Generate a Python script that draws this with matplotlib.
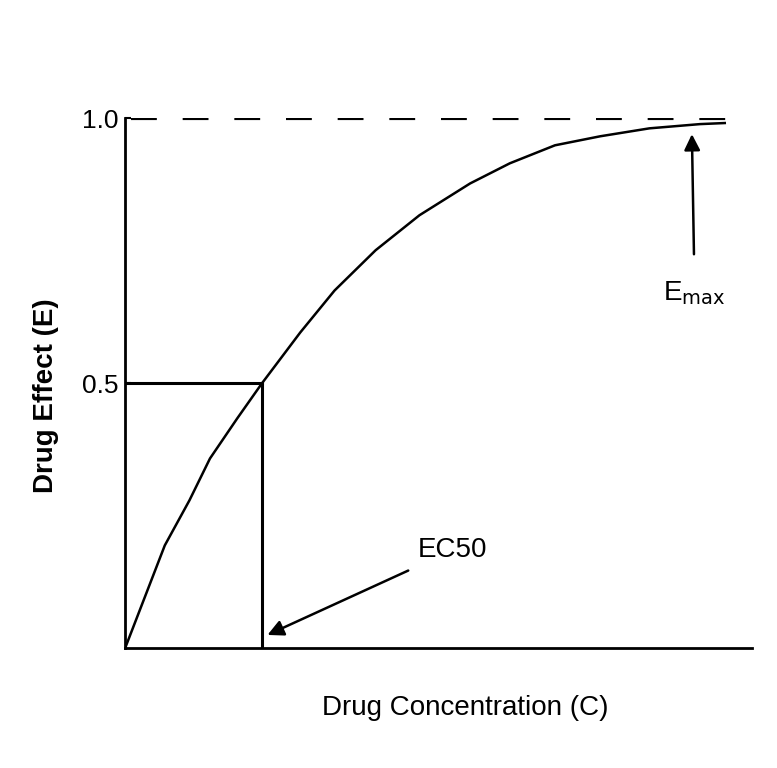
import matplotlib.pyplot as plt

# curve (C in units of EC50, E as fraction of Emax)
conc = [0, 0.29, 0.47, 0.62, 0.82, 1.0, 1.28, 1.53, 1.83, 2.15, 2.52, 2.81, 3.14, 3.47, 3.83, 4.20, 4.38]
effect = [0, 0.194, 0.279, 0.358, 0.434, 0.5, 0.596, 0.675, 0.751, 0.817, 0.877, 0.915, 0.949, 0.966, 0.981, 0.989, 0.991]
ec50 = 1.0
emax = 1.0
ytick_vals = [0.5, 1.0]
ytick_labels = ['0.5', '1.0']

plt.rcParams['font.family'] = ['Liberation Sans', 'DejaVu Sans']

fig = plt.figure(figsize=(7.77, 7.68), dpi=100)
ax = fig.add_axes([0.161, 0.156, 0.807, 0.690])

ax.plot(conc, effect, 'k', lw=1.8)
ax.plot([0.04, 4.40], [emax, emax], 'k', lw=3.0, dashes=(6.2, 6.2))
ax.plot([0, ec50], [0.5, 0.5], 'k', lw=2.2)
ax.plot([ec50, ec50], [0, 0.5], 'k', lw=2.2)

ax.set_xlim(0, 4.58)
ax.set_ylim(0, 1.0)
ax.spines['top'].set_visible(False)
ax.spines['right'].set_visible(False)
ax.spines['left'].set_linewidth(2)
ax.spines['bottom'].set_linewidth(2)
ax.set_xticks([])
ax.set_yticks(ytick_vals)
ax.set_yticklabels(ytick_labels, fontsize=19)
ax.tick_params(axis='y', direction='in', length=4, width=1.5, pad=5)

ax.set_xlabel('Drug Concentration (C)', fontsize=20)
ax.xaxis.set_label_coords(0.542, -0.088)
ax.set_ylabel('Drug Effect (E)', fontsize=20, fontweight='bold')
ax.yaxis.set_label_coords(-0.106, 0.477)

arrow = dict(arrowstyle='-|>', color='k', lw=1.8, mutation_scale=24)
ax.annotate('EC50', xy=(1.04, 0.025), xytext=(2.14, 0.185), fontsize=20,
            ha='left', va='center', arrowprops=dict(arrow, shrinkA=8, shrinkB=0))
ax.annotate('E$_{\\mathrm{max}}$', xy=(4.14, 0.97), xytext=(4.16, 0.67), fontsize=20,
            ha='center', va='center', arrowprops=dict(arrow, shrinkA=16, shrinkB=0))

fig.savefig('out.png', dpi=100)
